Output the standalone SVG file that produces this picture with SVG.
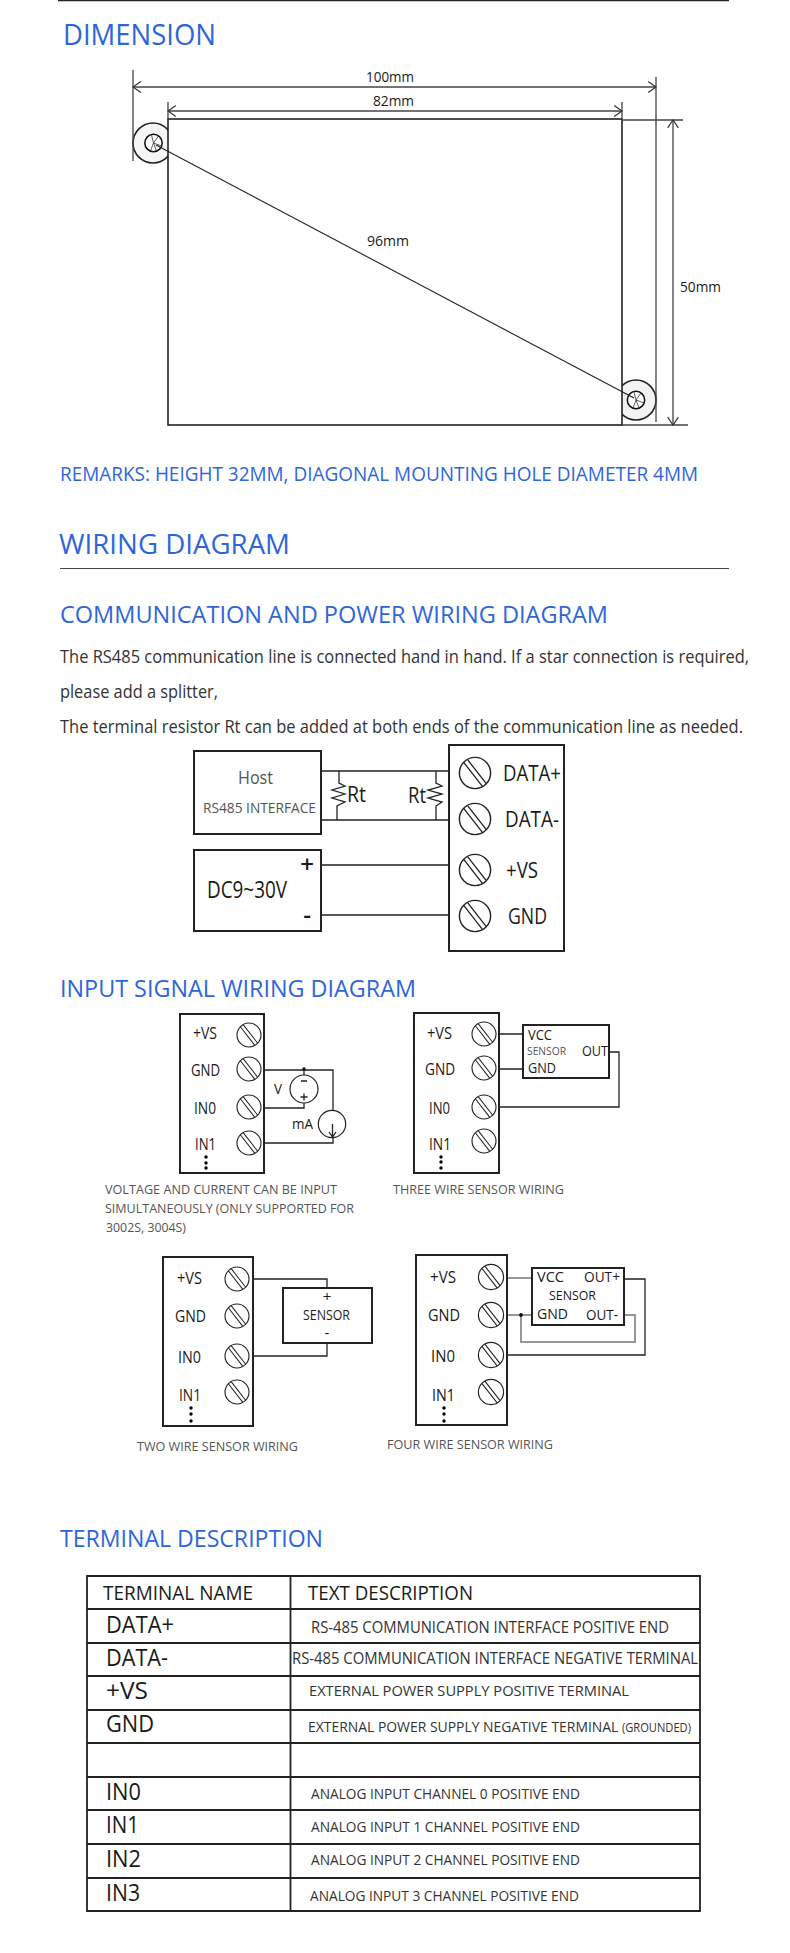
<svg xmlns="http://www.w3.org/2000/svg" xmlns:xlink="http://www.w3.org/1999/xlink" width="790" height="1953" viewBox="0 0 790 1953">
<style>
text{font-family:"Open Sans","Noto Sans","Liberation Sans",sans-serif;fill:#1a1a1a;}
.h{fill:#2e66da;}
.b{fill:#333;}
.g{fill:#555;}
.ln{fill:none;stroke:#222;stroke-width:1.3;}
.box{fill:#fff;stroke:#222;stroke-width:2;}
.gw{fill:none;stroke:#777;stroke-width:1.5;}
.tb{fill:none;stroke:#222;stroke-width:1.8;}
.dim{fill:none;stroke:#444;stroke-width:1.3;}
</style>
<defs>
<marker id="oa" viewBox="0 0 10 10" refX="9.5" refY="5" markerWidth="12" markerHeight="12" markerUnits="userSpaceOnUse" orient="auto-start-reverse"><path d="M3 0.5L9.5 5L3 9.5" fill="none" stroke="#333" stroke-width="1"/></marker>
<g id="screw"><circle r="12" fill="#fff" stroke="#222" stroke-width="1.1"/><g transform="rotate(52)"><path d="M-11.8 -1.8L11.8 -1.8M-11.8 1.8L11.8 1.8" fill="none" stroke="#222" stroke-width="1"/></g></g>
<g id="hole"><circle r="8.7" fill="#fff" stroke="#111" stroke-width="1.5"/><path d="M0 0L-2 -8M0 0L5 -7M0 0L8 3M0 0L-3 8M0 0L3 8" fill="none" stroke="#333" stroke-width=".8"/></g>
</defs>
<rect width="790" height="1953" fill="#fff"/>
<path d="M58 0.5H729" stroke="#222" stroke-width="1.500" fill="none"/>

<g id="headings">
<text class="h" x="63" y="45" font-size="29" textLength="153" lengthAdjust="spacingAndGlyphs">DIMENSION</text>
<text class="h" x="60" y="481" font-size="20.500" textLength="638" lengthAdjust="spacingAndGlyphs">REMARKS: HEIGHT 32MM, DIAGONAL MOUNTING HOLE DIAMETER 4MM</text>
<text class="h" x="59" y="554" font-size="28" textLength="231" lengthAdjust="spacingAndGlyphs">WIRING DIAGRAM</text>
<path d="M60 568.500H729" stroke="#444" stroke-width="1" fill="none"/>
<text class="h" x="60" y="623" font-size="24" textLength="548" lengthAdjust="spacingAndGlyphs">COMMUNICATION AND POWER WIRING DIAGRAM</text>
<text class="b" x="60" y="663" font-size="17.500" textLength="689" lengthAdjust="spacingAndGlyphs">The RS485 communication line is connected hand in hand. If a star connection is required,</text>
<text class="b" x="60" y="698" font-size="17.500" textLength="158" lengthAdjust="spacingAndGlyphs">please add a splitter,</text>
<text class="b" x="60" y="733" font-size="17.500" textLength="683" lengthAdjust="spacingAndGlyphs">The terminal resistor Rt can be added at both ends of the communication line as needed.</text>
<text class="h" x="60" y="997" font-size="24" textLength="356" lengthAdjust="spacingAndGlyphs">INPUT SIGNAL WIRING DIAGRAM</text>
<text class="h" x="60" y="1547" font-size="24" textLength="263" lengthAdjust="spacingAndGlyphs">TERMINAL DESCRIPTION</text>
</g>

<g id="dimension">
<circle cx="153" cy="143" r="20" fill="#f6f6f6" stroke="#222" stroke-width="1.600"/>
<circle cx="636" cy="400" r="20" fill="#f2f2f2" stroke="#222" stroke-width="1.600"/>
<rect x="168" y="119" width="454" height="306" fill="#fff" stroke="#222" stroke-width="1.600"/>
<use href="#hole" x="153.500" y="143"/>
<use href="#hole" x="636" y="400"/>
<path class="dim" d="M133 70V161M656 77V422M168 102V119M622 102V119M622 120H683M622 425H688"/>
<path class="dim" d="M133 87H656" marker-start="url(#oa)" marker-end="url(#oa)"/>
<path class="dim" d="M168 111H622" marker-start="url(#oa)" marker-end="url(#oa)"/>
<path class="dim" d="M673 120V425" marker-start="url(#oa)" marker-end="url(#oa)"/>
<path d="M156 145L634 398" fill="none" stroke="#222" stroke-width="1.100"/>
<text x="366" y="82" font-size="15" textLength="48" lengthAdjust="spacingAndGlyphs">100mm</text>
<text x="373" y="106" font-size="15" textLength="41" lengthAdjust="spacingAndGlyphs">82mm</text>
<text x="367" y="246" font-size="15" textLength="42" lengthAdjust="spacingAndGlyphs">96mm</text>
<text x="680" y="292" font-size="15" textLength="41" lengthAdjust="spacingAndGlyphs">50mm</text>
</g>

<g id="connectors">
<path class="ln" d="M321 771H449M321 820H449M321 865H449M321 915H449"/>
<path class="ln" d="M339 771V783L345 786L332 790L345 794L332 798L345 802L337 806V820"/>
<path class="ln" d="M436 771V783L442 786L428 790L442 794L428 798L442 802L436 806V820"/>
<path class="ln" d="M261 1070H333V1110M333 1137V1143H261M304 1070V1075M261 1108H304V1103"/>
<path class="ln" d="M500 1034H523M497 1069H523M609 1052H619V1107H497"/>
<path class="ln" d="M250 1279H327V1288M250 1356H327V1343"/>
<path class="gw" d="M505 1278H532M505 1315H532M521 1315V1342H635V1315H624"/>
<path class="ln" d="M624 1279H645V1355H505"/>
</g>

<g id="host"><rect class="box" x="194" y="751" width="127" height="83"/>
<text class="g" x="238" y="784" font-size="18" textLength="35" lengthAdjust="spacingAndGlyphs">Host</text>
<text class="g" x="203" y="813" font-size="15" textLength="113" lengthAdjust="spacingAndGlyphs">RS485 INTERFACE</text></g>
<g id="power"><rect class="box" x="194" y="850" width="127" height="81"/>
<text x="207" y="898" font-size="23" textLength="80" lengthAdjust="spacingAndGlyphs">DC9~30V</text>
<text x="307" y="873" font-size="24" font-weight="600" text-anchor="middle">+</text>
<text x="307" y="923" font-size="24" font-weight="600" text-anchor="middle">-</text></g>
<g id="rt-labels"><text x="347" y="802" font-size="22" textLength="19" lengthAdjust="spacingAndGlyphs">Rt</text>
<text x="408" y="803" font-size="22" textLength="18" lengthAdjust="spacingAndGlyphs">Rt</text></g>
<g id="terminal-main"><rect class="box" x="449" y="745" width="115" height="206"/>
<use href="#screw" transform="translate(475 773) scale(1.300)"/><use href="#screw" transform="translate(475 819) scale(1.300)"/><use href="#screw" transform="translate(475 870) scale(1.300)"/><use href="#screw" transform="translate(475 916) scale(1.300)"/>
<text x="503" y="781" font-size="21" textLength="58" lengthAdjust="spacingAndGlyphs">DATA+</text>
<text x="505" y="827" font-size="21" textLength="54" lengthAdjust="spacingAndGlyphs">DATA-</text>
<text x="506" y="878" font-size="21" textLength="32" lengthAdjust="spacingAndGlyphs">+VS</text>
<text x="508" y="924" font-size="21" textLength="39" lengthAdjust="spacingAndGlyphs">GND</text></g>

<g id="input-a"><rect class="box" x="180" y="1014" width="84" height="159"/>
<use href="#screw" transform="translate(249 1035)"/><use href="#screw" transform="translate(249 1069)"/><use href="#screw" transform="translate(249 1107)"/><use href="#screw" transform="translate(249 1143)"/>
<text x="193" y="1039" font-size="16" textLength="24" lengthAdjust="spacingAndGlyphs">+VS</text>
<text x="191" y="1076" font-size="16" textLength="29" lengthAdjust="spacingAndGlyphs">GND</text>
<text x="194" y="1114" font-size="16" textLength="22" lengthAdjust="spacingAndGlyphs">IN0</text>
<text x="195" y="1150" font-size="16" textLength="21" lengthAdjust="spacingAndGlyphs">IN1</text>
<circle cx="206" cy="1157" r="1.700"/><circle cx="206" cy="1163" r="1.700"/><circle cx="206" cy="1168" r="1.700"/>
<circle cx="304" cy="1069" r="1.800" fill="#111"/>
<circle cx="304" cy="1089" r="14" fill="#fff" stroke="#222" stroke-width="1.200"/>
<path class="ln" d="M301 1081H307M300.500 1097H307.500M304 1093.500V1100.500" stroke-width="1"/>
<circle cx="332" cy="1124" r="13.700" fill="#fff" stroke="#222" stroke-width="1.200"/>
<path class="ln" d="M332.500 1124V1137M329 1132L332.500 1137L336 1132" stroke-width="1"/>
<text x="274" y="1094" font-size="15" textLength="8" lengthAdjust="spacingAndGlyphs">V</text>
<text x="292" y="1129" font-size="15" textLength="21" lengthAdjust="spacingAndGlyphs">mA</text>
<text class="g" x="105" y="1194" font-size="13.500" textLength="232" lengthAdjust="spacingAndGlyphs">VOLTAGE AND CURRENT CAN BE INPUT</text>
<text class="g" x="105" y="1213" font-size="13.500" textLength="249" lengthAdjust="spacingAndGlyphs">SIMULTANEOUSLY (ONLY SUPPORTED FOR</text>
<text class="g" x="106" y="1232" font-size="13.500" textLength="80" lengthAdjust="spacingAndGlyphs">3002S, 3004S)</text></g>

<g id="input-b"><rect class="box" x="414" y="1013" width="85" height="160"/>
<use href="#screw" transform="translate(484 1034)"/><use href="#screw" transform="translate(484 1068)"/><use href="#screw" transform="translate(484 1107)"/><use href="#screw" transform="translate(484 1141)"/>
<text x="427" y="1039" font-size="16" textLength="25" lengthAdjust="spacingAndGlyphs">+VS</text>
<text x="425" y="1075" font-size="16" textLength="30" lengthAdjust="spacingAndGlyphs">GND</text>
<text x="429" y="1114" font-size="16" textLength="21" lengthAdjust="spacingAndGlyphs">IN0</text>
<text x="429" y="1150" font-size="16" textLength="22" lengthAdjust="spacingAndGlyphs">IN1</text>
<circle cx="441" cy="1157" r="1.700"/><circle cx="441" cy="1162" r="1.700"/><circle cx="441" cy="1168" r="1.700"/>
<rect class="box" x="523" y="1025" width="86" height="53"/>
<text x="528" y="1040" font-size="15" textLength="24" lengthAdjust="spacingAndGlyphs">VCC</text>
<text class="g" x="527" y="1055" font-size="11" textLength="39" lengthAdjust="spacingAndGlyphs">SENSOR</text>
<text x="582" y="1056" font-size="15" textLength="26" lengthAdjust="spacingAndGlyphs">OUT</text>
<text x="528" y="1073" font-size="15" textLength="28" lengthAdjust="spacingAndGlyphs">GND</text>
<text class="g" x="393" y="1194" font-size="13.500" textLength="171" lengthAdjust="spacingAndGlyphs">THREE WIRE SENSOR WIRING</text></g>

<g id="input-c"><rect class="box" x="163" y="1257" width="90" height="169"/>
<use href="#screw" transform="translate(237 1279)"/><use href="#screw" transform="translate(237 1316)"/><use href="#screw" transform="translate(237 1356)"/><use href="#screw" transform="translate(237 1392)"/>
<text x="177" y="1284" font-size="16.500" textLength="25" lengthAdjust="spacingAndGlyphs">+VS</text>
<text x="175" y="1322" font-size="16.500" textLength="31" lengthAdjust="spacingAndGlyphs">GND</text>
<text x="178" y="1363" font-size="16.500" textLength="23" lengthAdjust="spacingAndGlyphs">IN0</text>
<text x="179" y="1401" font-size="16.500" textLength="22" lengthAdjust="spacingAndGlyphs">IN1</text>
<circle cx="191" cy="1408" r="1.700"/><circle cx="191" cy="1414" r="1.700"/><circle cx="191" cy="1421" r="1.700"/>
<rect class="box" x="283" y="1288" width="89" height="55"/>
<text x="327" y="1302" font-size="15" text-anchor="middle">+</text>
<text x="303" y="1320" font-size="14" textLength="47" lengthAdjust="spacingAndGlyphs" fill="#333">SENSOR</text>
<text x="327" y="1338" font-size="15" text-anchor="middle">-</text>
<text class="g" x="137" y="1451" font-size="13.500" textLength="161" lengthAdjust="spacingAndGlyphs">TWO WIRE SENSOR WIRING</text></g>

<g id="input-d"><rect class="box" x="416" y="1255" width="91" height="170"/>
<use href="#screw" transform="translate(491 1277) scale(1.050)"/><use href="#screw" transform="translate(491 1315) scale(1.050)"/><use href="#screw" transform="translate(491 1355) scale(1.050)"/><use href="#screw" transform="translate(491 1392) scale(1.050)"/>
<text x="430" y="1283" font-size="17" textLength="26" lengthAdjust="spacingAndGlyphs">+VS</text>
<text x="428" y="1321" font-size="17" textLength="32" lengthAdjust="spacingAndGlyphs">GND</text>
<text x="431" y="1362" font-size="17" textLength="24" lengthAdjust="spacingAndGlyphs">IN0</text>
<text x="432" y="1401" font-size="17" textLength="23" lengthAdjust="spacingAndGlyphs">IN1</text>
<circle cx="444" cy="1408" r="1.700"/><circle cx="444" cy="1414" r="1.700"/><circle cx="444" cy="1421" r="1.700"/>
<rect class="box" x="532" y="1268" width="92" height="57"/>
<circle cx="521" cy="1315" r="1.900" fill="#111"/>
<text x="537" y="1282" font-size="15" textLength="27" lengthAdjust="spacingAndGlyphs">VCC</text>
<text x="584" y="1282" font-size="15" textLength="36" lengthAdjust="spacingAndGlyphs">OUT+</text>
<text x="549" y="1300" font-size="13" textLength="47" lengthAdjust="spacingAndGlyphs" fill="#333">SENSOR</text>
<text x="537" y="1319" font-size="15" textLength="31" lengthAdjust="spacingAndGlyphs">GND</text>
<text x="586" y="1320" font-size="15" textLength="32" lengthAdjust="spacingAndGlyphs">OUT-</text>
<text class="g" x="387" y="1449" font-size="13.500" textLength="166" lengthAdjust="spacingAndGlyphs">FOUR WIRE SENSOR WIRING</text></g>

<g id="terminal-table">
<path class="tb" d="M87 1576H700V1911H87ZM290.500 1576V1911M87 1609H700M87 1643H700M87 1676H700M87 1710H700M87 1743H700M87 1777H700M87 1810H700M87 1844H700M87 1878H700"/>
<text x="103" y="1600" font-size="20" textLength="150" lengthAdjust="spacingAndGlyphs">TERMINAL NAME</text>
<text x="308" y="1600" font-size="20" textLength="165" lengthAdjust="spacingAndGlyphs">TEXT DESCRIPTION</text>
<text x="106" y="1633" font-size="24" textLength="68" lengthAdjust="spacingAndGlyphs">DATA+</text>
<text x="106" y="1666" font-size="24" textLength="62" lengthAdjust="spacingAndGlyphs">DATA-</text>
<text x="106" y="1699" font-size="24" textLength="42" lengthAdjust="spacingAndGlyphs">+VS</text>
<text x="106" y="1732" font-size="24" textLength="48" lengthAdjust="spacingAndGlyphs">GND</text>
<text x="106" y="1800" font-size="24" textLength="35" lengthAdjust="spacingAndGlyphs">IN0</text>
<text x="106" y="1833" font-size="24" textLength="33" lengthAdjust="spacingAndGlyphs">IN1</text>
<text x="106" y="1867" font-size="24" textLength="35" lengthAdjust="spacingAndGlyphs">IN2</text>
<text x="106" y="1901" font-size="24" textLength="34" lengthAdjust="spacingAndGlyphs">IN3</text>
<text class="b" x="311" y="1633" font-size="15.500" textLength="358" lengthAdjust="spacingAndGlyphs">RS-485 COMMUNICATION INTERFACE POSITIVE END</text>
<text class="b" x="292" y="1664" font-size="15.500" textLength="406" lengthAdjust="spacingAndGlyphs">RS-485 COMMUNICATION INTERFACE NEGATIVE TERMINAL</text>
<text class="b" x="309" y="1696" font-size="15" textLength="320" lengthAdjust="spacingAndGlyphs">EXTERNAL POWER SUPPLY POSITIVE TERMINAL</text>
<text class="b" x="308" y="1732" font-size="15" textLength="383" lengthAdjust="spacingAndGlyphs">EXTERNAL POWER SUPPLY NEGATIVE TERMINAL <tspan font-size="12">(GROUNDED)</tspan></text>
<text class="b" x="311" y="1799" font-size="15" textLength="269" lengthAdjust="spacingAndGlyphs">ANALOG INPUT CHANNEL 0 POSITIVE END</text>
<text class="b" x="311" y="1832" font-size="15" textLength="269" lengthAdjust="spacingAndGlyphs">ANALOG INPUT 1 CHANNEL POSITIVE END</text>
<text class="b" x="311" y="1865" font-size="15" textLength="269" lengthAdjust="spacingAndGlyphs">ANALOG INPUT 2 CHANNEL POSITIVE END</text>
<text class="b" x="310" y="1901" font-size="15" textLength="269" lengthAdjust="spacingAndGlyphs">ANALOG INPUT 3 CHANNEL POSITIVE END</text>
</g>
</svg>
